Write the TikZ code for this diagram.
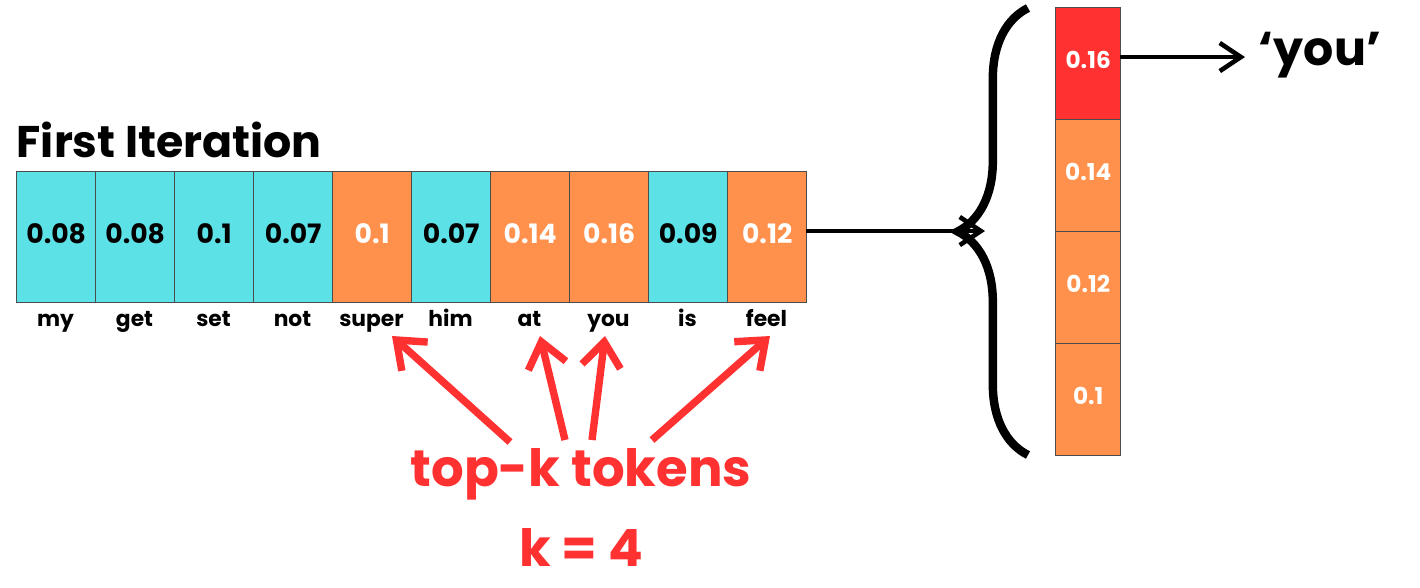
\documentclass[tikz,border=0pt]{standalone}
\usepackage{fontspec}
\setmainfont{Poppins}
\usetikzlibrary{decorations.pathreplacing,arrows.meta}
\definecolor{cy}{HTML}{5CE1E6}
\definecolor{orn}{HTML}{FF914D}
\definecolor{rd}{HTML}{FF3131}
\begin{document}
\begin{tikzpicture}[x=0.01cm,y=-0.01cm,
  cell/.style={draw=black!70,line width=0.4pt,minimum width=79*0.01cm,minimum height=131*0.01cm,inner sep=0pt,anchor=north west,font=\fontsize{7.6}{9}\selectfont\bfseries},
  vcell/.style={draw=black!70,line width=0.4pt,minimum width=65*0.01cm,minimum height=112*0.01cm,inner sep=0pt,anchor=north west,text=white,font=\fontsize{6.6}{8}\selectfont\bfseries},
  tok/.style={font=\fontsize{6.2}{7}\selectfont\bfseries},
  blk/.style={-{Straight Barb[length=6pt,width=8pt]},line width=1.3pt},
  red/.style={-{Straight Barb[length=7pt,width=11pt]},line width=2.1pt,draw=rd}]
\useasboundingbox (0,0) rectangle (1420,587);
\node[anchor=base west,inner sep=0pt,font=\fontsize{12.6}{15}\selectfont\bfseries] (title) at (16,157) {First Iteration};
\foreach \i/\v/\c/\t/\w in {0/0.08/cy/black/my,1/0.08/cy/black/get,2/0.1/cy/black/set,3/0.07/cy/black/not,4/0.1/orn/white/super,5/0.07/cy/black/him,6/0.14/orn/white/at,7/0.16/orn/white/you,8/0.09/cy/black/is,9/0.12/orn/white/feel}{
  \node[cell,fill=\c,text=\t] (c\i) at ({16+79*\i},171) {\raisebox{2pt}{\v}};
  \node[tok,anchor=base] (t\i) at ({55.5+79*\i},326) {\w};
}
\foreach \i/\v/\c in {0/0.16/rd,1/0.14/orn,2/0.12/orn,3/0.1/orn}{
  \node[vcell,fill=\c] (v\i) at (1055,{7+112*\i}) {\raisebox{2pt}{\v}};
}
\coordinate (ca) at (806,231);
\coordinate (bt) at (985,231);
\draw[blk] (ca) -- (bt);
\draw[line width=2.4pt,decorate,decoration={brace,amplitude=20pt,aspect=0.5}] (1028,455) -- (1028,8);
\node[font=\fontsize{13.5}{16}\selectfont\bfseries] (you) at (1320,55) {‘you’};
\coordinate (ya) at (1120,57);
\coordinate (ye) at (1245,57);
\draw[blk] (ya) -- (ye);
\node[text=rd,font=\fontsize{14.6}{18}\selectfont\bfseries] (topk) at (581,474) {top-k tokens};
\node[text=rd,font=\fontsize{14.6}{18}\selectfont\bfseries] (k) at (581,547) {k = 4};
\coordinate (a1) at (510,442); \coordinate (a2) at (565,440);
\coordinate (a3) at (592,440); \coordinate (a4) at (652,440);
\draw[red] (a1) -- (392,336);
\draw[red] (a2) -- (540,336);
\draw[red] (a3) -- (605,336);
\draw[red] (a4) -- (770,336);
\end{tikzpicture}
\end{document}
